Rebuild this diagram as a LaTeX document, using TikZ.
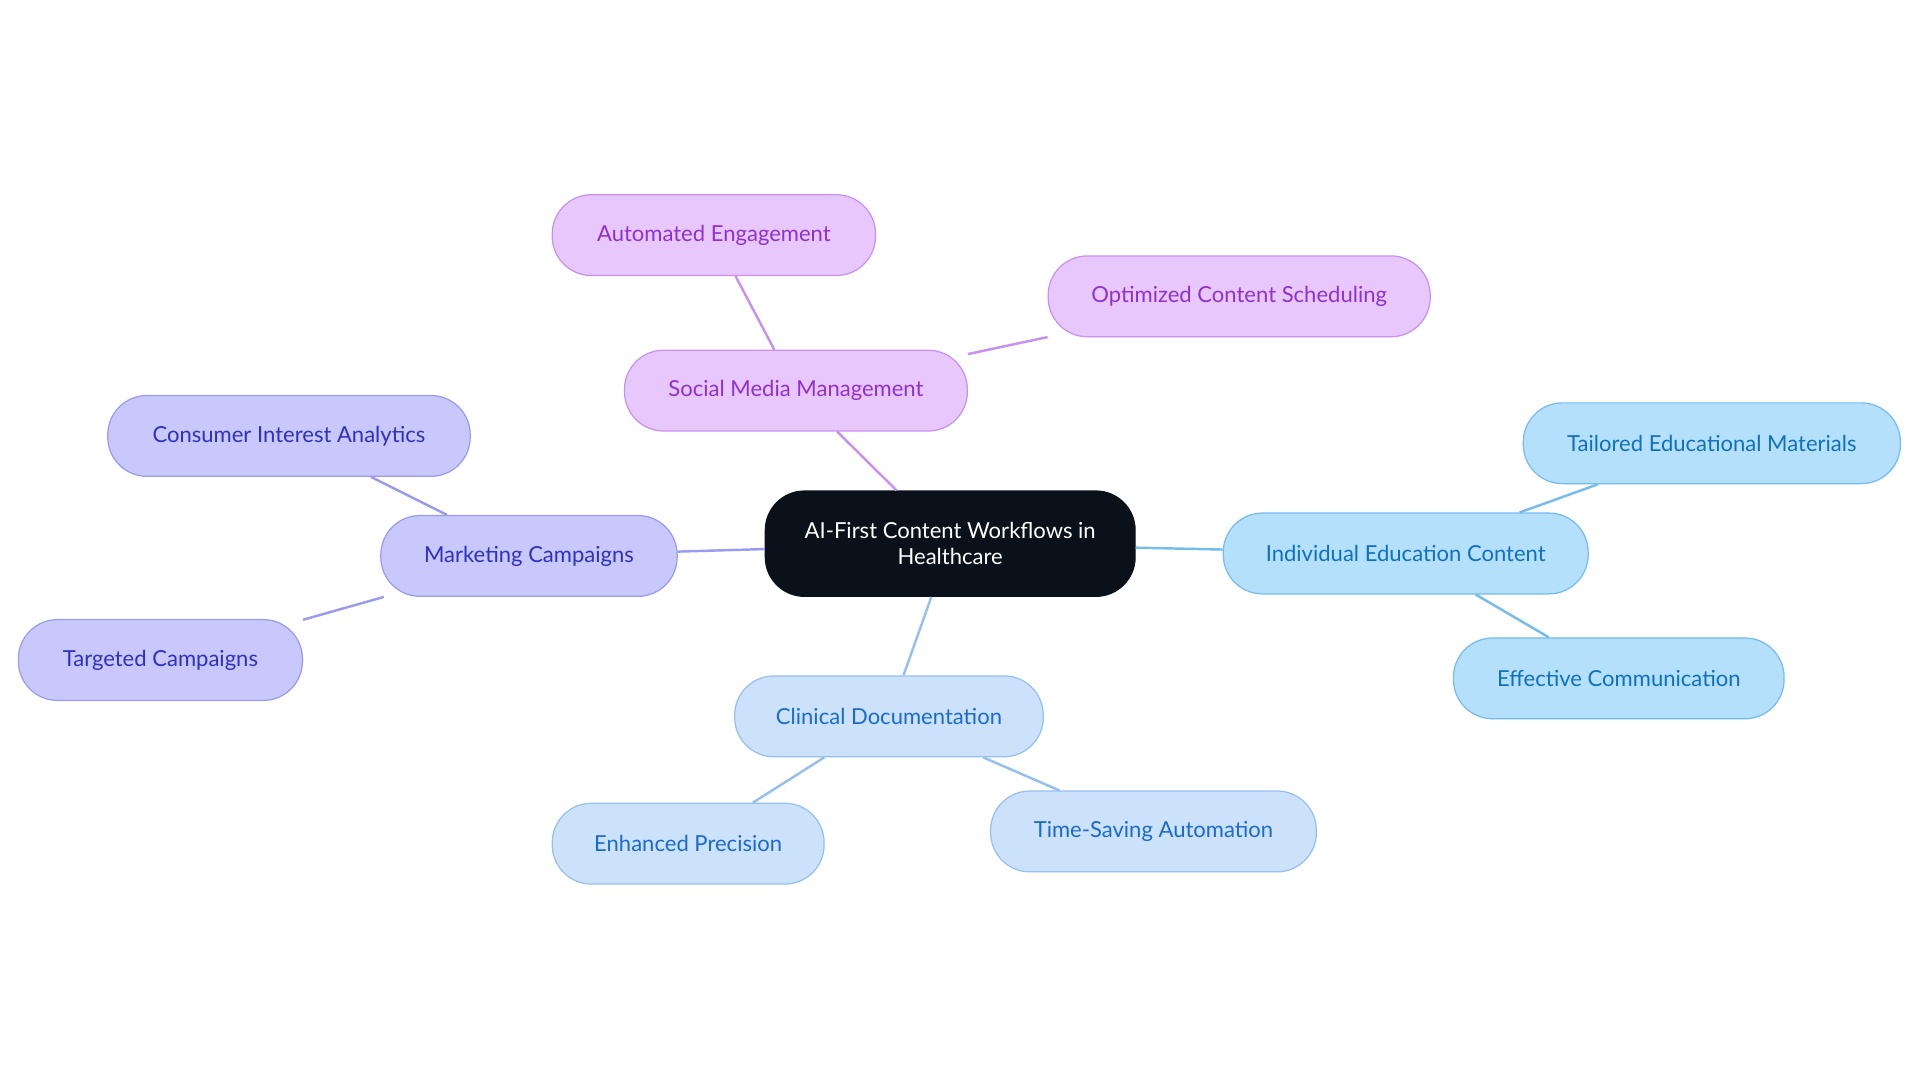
\documentclass[tikz,border=0pt]{standalone}
\usepackage{fontspec}
\setmainfont{Lato}
\begin{document}
\begin{tikzpicture}[x=0.5pt,y=-0.5pt,
  base/.style={rounded corners=16pt,minimum height=33pt,align=center,line width=0.5pt,font=\fontsize{9}{10.5}\selectfont,inner sep=0pt},
  soc/.style={base,fill=socf,draw=socd,text=soct},
  mkt/.style={base,fill=mktf,draw=mktd,text=mktt},
  edu/.style={base,fill=eduf,draw=edud,text=edut},
  cli/.style={base,fill=clif,draw=clid,text=clit},
  ln/.style={line width=1pt}]
\definecolor{socf}{HTML}{E8C8FC}\definecolor{socd}{HTML}{C890F0}\definecolor{soct}{HTML}{9030D0}
\definecolor{mktf}{HTML}{C8C8FC}\definecolor{mktd}{HTML}{9A9AF0}\definecolor{mktt}{HTML}{3030C0}
\definecolor{eduf}{HTML}{B4E0FC}\definecolor{edud}{HTML}{74BCF0}\definecolor{edut}{HTML}{1070C0}
\definecolor{clif}{HTML}{CCE2FA}\definecolor{clid}{HTML}{94C0F0}\definecolor{clit}{HTML}{1A6AD0}
\definecolor{ctr}{HTML}{0B111B}
\useasboundingbox (0,0) rectangle (1568,884);
\node[base,fill=ctr,draw=ctr,text=white,minimum width=151pt,minimum height=43pt] (c) at (776,444) {AI-First Content Workflows in\\Healthcare};
\node[soc,minimum width=140pt] (s) at (650,319) {Social Media Management};
\node[soc,minimum width=132pt] (s1) at (583,192) {Automated Engagement};
\node[soc,minimum width=156pt] (s2) at (1012,242) {Optimized Content Scheduling};
\node[mkt,minimum width=121pt] (m) at (432,454) {Marketing Campaigns};
\node[mkt,minimum width=148pt] (m1) at (236,356) {Consumer Interest Analytics};
\node[mkt,minimum width=116pt] (m2) at (131,539) {Targeted Campaigns};
\node[edu,minimum width=149pt] (e) at (1148,452) {Individual Education Content};
\node[edu,minimum width=154pt] (e1) at (1398,362) {Tailored Educational Materials};
\node[edu,minimum width=135pt] (e2) at (1322,554) {Effective Communication};
\node[cli,minimum width=126pt] (d) at (726,585) {Clinical Documentation};
\node[cli,minimum width=111pt] (d1) at (562,689) {Enhanced Precision};
\node[cli,minimum width=133pt] (d2) at (942,679) {Time-Saving Automation};
\draw[ln,socd] (c) -- (s); \draw[ln,socd] (s) -- (s1); \draw[ln,socd] (s) -- (s2);
\draw[ln,mktd] (c) -- (m); \draw[ln,mktd] (m) -- (m1); \draw[ln,mktd] (m) -- (m2);
\draw[ln,edud] (c) -- (e); \draw[ln,edud] (e) -- (e1); \draw[ln,edud] (e) -- (e2);
\draw[ln,clid] (c) -- (d); \draw[ln,clid] (d) -- (d1); \draw[ln,clid] (d) -- (d2);
\end{tikzpicture}
\end{document}
